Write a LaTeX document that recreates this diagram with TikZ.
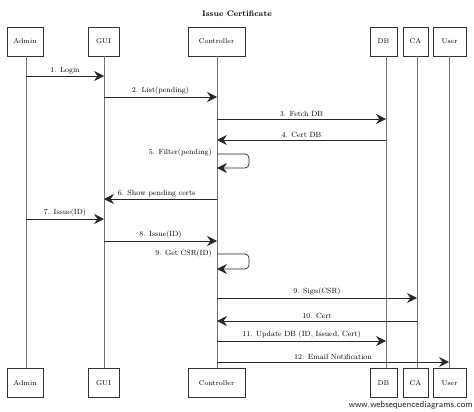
\documentclass[tikz,border=0pt]{standalone}
\usetikzlibrary{arrows.meta}
\begin{document}
\begin{tikzpicture}[x=1pt,y=-1pt,
  part/.style={draw=black!80,line width=0.6pt,minimum height=29pt,inner sep=1pt,font=\fontsize{7}{8}\selectfont},
  life/.style={draw=black!55,line width=0.6pt},
  msg/.style={draw=black!85,line width=0.7pt,-{Stealth[length=10pt,width=10pt,inset=3.5pt]}},
  lab/.style={font=\fontsize{7.5}{8}\selectfont,inner sep=1pt}]
\useasboundingbox (0,0) rectangle (474,412);
\node[font=\fontsize{8}{9}\selectfont\bfseries] (title) at (237,14) {Issue Certificate};
% top participants
\node[part,minimum width=36pt] (adminT) at (25,41.5) {Admin};
\node[part,minimum width=31pt] (guiT) at (103.5,41.5) {GUI};
\node[part,minimum width=57pt] (ctrlT) at (216.5,41.5) {Controller};
\node[part,minimum width=27pt] (dbT) at (383.5,41.5) {DB};
\node[part,minimum width=25pt] (caT) at (415.5,41.5) {CA};
\node[part,minimum width=33pt] (userT) at (449.5,41.5) {User};
% bottom participants
\node[part,minimum width=36pt] (adminB) at (25,383) {Admin};
\node[part,minimum width=31pt] (guiB) at (103.5,383) {GUI};
\node[part,minimum width=57pt] (ctrlB) at (216.5,383) {Controller};
\node[part,minimum width=27pt] (dbB) at (383.5,383) {DB};
\node[part,minimum width=25pt] (caB) at (415.5,383) {CA};
\node[part,minimum width=33pt] (userB) at (449.5,383) {User};
% lifelines
\draw[life] (26,56) coordinate (aL1) -- (26,368) coordinate (aL2);
\draw[life] (104,56) coordinate (gL1) -- (104,368) coordinate (gL2);
\draw[life] (217,56) coordinate (cL1) -- (217,368) coordinate (cL2);
\draw[life] (386,56) coordinate (dL1) -- (386,368) coordinate (dL2);
\draw[life] (417,56) coordinate (kL1) -- (417,368) coordinate (kL2);
\draw[life] (449,56) coordinate (uL1) -- (449,368) coordinate (uL2);
% message anchors
\coordinate (a1) at (26,76);  \coordinate (g1) at (104,76);
\coordinate (g2) at (104,97); \coordinate (c2) at (217,97);
\coordinate (c3) at (217,119); \coordinate (d3) at (386,119);
\coordinate (d4) at (386,140); \coordinate (c4) at (217,140);
\coordinate (c5a) at (217,154); \coordinate (c5b) at (217,168);
\coordinate (c6) at (217,199); \coordinate (g6) at (104,199);
\coordinate (a7) at (26,219); \coordinate (g7) at (104,219);
\coordinate (g8) at (104,241); \coordinate (c8) at (217,241);
\coordinate (c9a) at (217,254); \coordinate (c9b) at (217,269);
\coordinate (c10) at (217,298); \coordinate (k10) at (417,298);
\coordinate (k11) at (417,321); \coordinate (c11) at (217,321);
\coordinate (c12) at (217,341); \coordinate (d12) at (386,341);
\coordinate (c13) at (217,362); \coordinate (u13) at (449,362);
% messages
\draw[msg] (a1) -- node[lab,above=1pt] {1. Login} (g1);
\draw[msg] (g2) -- node[lab,above=1pt] {2. List(pending)} (c2);
\draw[msg] (c3) -- node[lab,above=1pt] {3. Fetch DB} (d3);
\draw[msg] (d4) -- node[lab,above=1pt] {4. Cert DB} (c4);
\draw[msg,rounded corners=4pt] (c5a) -- ++(32,0) -- ++(0,14) -- (c5b);
\node[lab,anchor=east] (l5) at (213,153) {5. Filter(pending)};
\draw[msg] (c6) -- node[lab,above=1pt,xshift=-4pt] {6. Show pending certs} (g6);
\draw[msg] (a7) -- node[lab,above=1pt] {7. Issue(ID)} (g7);
\draw[msg] (g8) -- node[lab,above=1pt] {8. Issue(ID)} (c8);
\draw[msg,rounded corners=4pt] (c9a) -- ++(32,0) -- ++(0,15) -- (c9b);
\node[lab,anchor=east] (l9) at (213,254) {9. Get CSR(ID)};
\draw[msg] (c10) -- node[lab,above=1pt] {9. Sign(CSR)} (k10);
\draw[msg] (k11) -- node[lab,above=1pt] {10. Cert} (c11);
\draw[msg] (c12) -- node[lab,above=1pt] {11. Update DB (ID, Issued, Cert)} (d12);
\draw[msg] (c13) -- node[lab,above=1pt] {12. Email Notification} (u13);
\node[font=\sffamily\fontsize{9}{10}\selectfont,anchor=east,black!85,inner sep=1pt] (wm) at (474,405) {www.websequencediagrams.com};
\end{tikzpicture}
\end{document}
